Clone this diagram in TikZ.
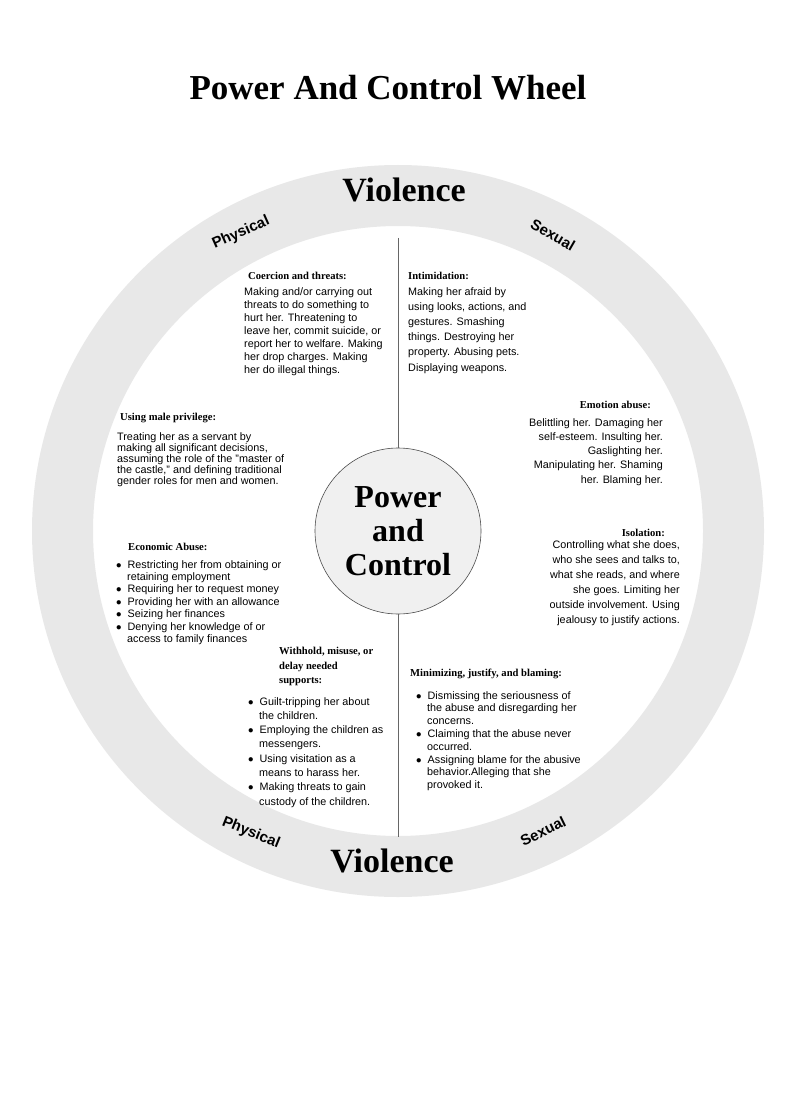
\documentclass[tikz,border=0pt]{standalone}
\usepackage{fontspec}
\setmainfont{Liberation Sans}
\newfontfamily\hd{Liberation Serif}
\begin{document}
\begin{tikzpicture}[x=1pt,y=-1pt,
 hdf/.style={font=\hd\bfseries\fontsize{10.6}{12}\selectfont,inner sep=0pt},
 bodyl/.style={anchor=north west,inner sep=0pt,align=left,font=\fontsize{10.8}{15.2}\selectfont},
 bodyr/.style={anchor=north east,inner sep=0pt,align=right,font=\fontsize{10.8}{15.2}\selectfont},
 ringt/.style={font=\bfseries\fontsize{15}{15}\selectfont,inner sep=0pt},
 big/.style={font=\hd\bfseries\fontsize{34}{34}\selectfont,inner sep=0pt}]
\useasboundingbox (0,0) rectangle (794,1107);
\fill[white] (0,0) rectangle (794,1107);
\fill[gray!18,even odd rule] (398,531) circle (366) (398,531) circle (305);
\coordinate (t1) at (398,238); \coordinate (b1) at (398,837);
\node[draw=black!70,fill=gray!12,circle,minimum size=166pt,line width=0.6pt] (cc) at (398,531) {};
\draw[black!60,line width=0.6pt] (t1) -- (cc.north) (cc.south) -- (b1);
\node[big,align=center,font=\hd\bfseries\fontsize{32}{34}\selectfont] (pc) at (398,531) {Power\\and\\Control};
\node[big,font=\hd\bfseries\fontsize{35}{35}\selectfont] (title) at (388,88) {Power And Control Wheel};
\node[big] (v1) at (404,190) {Violence};
\node[big] (v2) at (392,861) {Violence};
\node[ringt,rotate=24] (p1) at (241,233) {Physical};
\node[ringt,rotate=-30] (s1) at (553,235) {Sexual};
\node[ringt,rotate=-22] (p2) at (251,833) {Physical};
\node[ringt,rotate=26] (s2) at (543,831) {Sexual};
% headings
\node[hdf,anchor=west] (h1) at (248,276) {Coercion and threats:};
\node[hdf,anchor=west] (h2) at (408,276) {Intimidation:};
\node[hdf,anchor=east] (h3) at (651,405) {Emotion abuse:};
\node[hdf,anchor=west] (h4) at (120,418) {Using male privilege:};
\node[hdf,anchor=east] (h5) at (665,533) {Isolation:};
\node[hdf,anchor=west] (h6) at (128,547) {Economic Abuse:};
\node[hdf,anchor=north west,align=left,font=\hd\bfseries\fontsize{10.6}{14.5}\selectfont] (h7) at (279,647) {Withhold, misuse, or\\delay needed\\supports:};
\node[hdf,anchor=west] (h8) at (410,674) {Minimizing, justify, and blaming:};
% bodies
\node[bodyl,font=\fontsize{10.8}{13}\selectfont] (b1t) at (244,287) {Making and/or carrying out\\threats to do something to\\hurt her. Threatening to\\leave her, commit suicide, or\\report her to welfare. Making\\her drop charges. Making\\her do illegal things.};
\node[bodyl] (b2t) at (408,287) {Making her afraid by\\using looks, actions, and\\gestures. Smashing\\things. Destroying her\\property. Abusing pets.\\Displaying weapons.};
\node[bodyr,font=\fontsize{10.8}{14.3}\selectfont] (b3t) at (663,418) {Belittling her. Damaging her\\self-esteem. Insulting her.\\Gaslighting her.\\Manipulating her. Shaming\\her. Blaming her.};
\node[bodyl,font=\fontsize{10.8}{11.2}\selectfont] (b4t) at (117,432) {Treating her as a servant by\\making all significant decisions,\\assuming the role of the "master of\\the castle," and defining traditional\\gender roles for men and women.};
\node[bodyr,font=\fontsize{10.8}{15}\selectfont] (b5t) at (680,540) {Controlling what she does,\\who she sees and talks to,\\what she reads, and where\\she goes. Limiting her\\outside involvement. Using\\jealousy to justify actions.};
\node[bodyl,font=\fontsize{10.8}{12.4}\selectfont] (b6t) at (116,560) {%
$\bullet$\hspace{6pt}Restricting her from obtaining or\\
\hspace{11pt}retaining employment\\
$\bullet$\hspace{6pt}Requiring her to request money\\
$\bullet$\hspace{6pt}Providing her with an allowance\\
$\bullet$\hspace{6pt}Seizing her finances\\
$\bullet$\hspace{6pt}Denying her knowledge of or\\
\hspace{11pt}access to family finances};
\node[bodyl,font=\fontsize{10.8}{14.3}\selectfont] (b7t) at (248,697) {%
$\bullet$\hspace{6pt}Guilt-tripping her about\\
\hspace{11pt}the children.\\
$\bullet$\hspace{6pt}Employing the children as\\
\hspace{11pt}messengers.\\
$\bullet$\hspace{6pt}Using visitation as a\\
\hspace{11pt}means to harass her.\\
$\bullet$\hspace{6pt}Making threats to gain\\
\hspace{11pt}custody of the children.};
\node[bodyl,font=\fontsize{10.8}{12.8}\selectfont] (b8t) at (416,691) {%
$\bullet$\hspace{6pt}Dismissing the seriousness of\\
\hspace{11pt}the abuse and disregarding her\\
\hspace{11pt}concerns.\\
$\bullet$\hspace{6pt}Claiming that the abuse never\\
\hspace{11pt}occurred.\\
$\bullet$\hspace{6pt}Assigning blame for the abusive\\
\hspace{11pt}behavior.Alleging that she\\
\hspace{11pt}provoked it.};
\end{tikzpicture}
\end{document}
